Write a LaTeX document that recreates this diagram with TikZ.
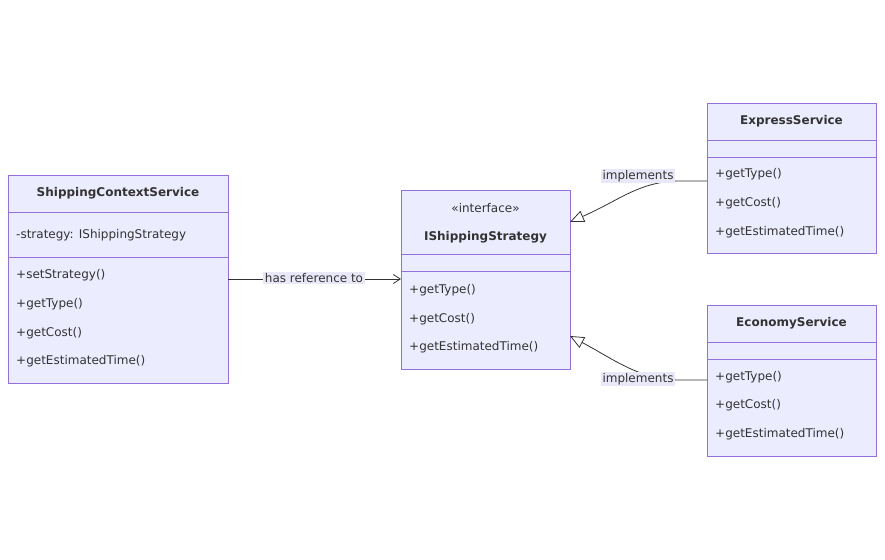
\documentclass[tikz,border=0pt]{standalone}
\usepackage{fontspec}
\setmainfont{DejaVu Sans}
\usetikzlibrary{arrows.meta}
\definecolor{bx}{HTML}{ECECFF}
\definecolor{bd}{HTML}{9370DB}
\definecolor{tx}{HTML}{333333}
\definecolor{lb}{HTML}{E8E8F8}
\begin{document}
\begin{tikzpicture}[x=1pt,y=-1pt,
  box/.style={draw=bd,fill=bx,line width=0.8pt},
  dv/.style={draw=bd,line width=0.8pt},
  t/.style={text=tx,font=\fontsize{12}{14}\selectfont,inner sep=0pt},
  tb/.style={t,font=\fontsize{12}{14}\selectfont\bfseries},
  m/.style={t,anchor=west},
  lab/.style={t,fill=lb,inner sep=1.5pt},
  ln/.style={draw=tx,line width=0.8pt}]
\useasboundingbox (0,0) rectangle (885,559);
% ShippingContextService
\draw[box] (8,175) rectangle (228,383);
\draw[dv] (8,212)--(228,212); \draw[dv] (8,257)--(228,257);
\node[tb] (sc) at (118,193) {ShippingContextService};
\node[m] at (16,235) {-strategy: IShippingStrategy};
\node[m] at (16,275) {+setStrategy()};
\node[m] at (16,304) {+getType()};
\node[m] at (16,333) {+getCost()};
\node[m] at (16,361) {+getEstimatedTime()};
\coordinate (scR) at (228,279);
% IShippingStrategy
\draw[box] (401,190) rectangle (570,369);
\draw[dv] (401,254)--(570,254); \draw[dv] (401,271)--(570,271);
\node[t] at (485.5,208) {«interface»};
\node[tb] (is) at (485.5,237) {IShippingStrategy};
\node[m] at (409,290) {+getType()};
\node[m] at (409,319) {+getCost()};
\node[m] at (409,347) {+getEstimatedTime()};
\coordinate (isL) at (401,279);
\coordinate (isT) at (570,222);
\coordinate (isB) at (570,336);
% ExpressService
\draw[box] (707,103) rectangle (876,253);
\draw[dv] (707,140)--(876,140); \draw[dv] (707,157)--(876,157);
\node[tb] (ex) at (791.5,121) {ExpressService};
\node[m] at (715,174) {+getType()};
\node[m] at (715,203) {+getCost()};
\node[m] at (715,232) {+getEstimatedTime()};
\coordinate (exL) at (707,181);
% EconomyService
\draw[box] (707,305) rectangle (876,456);
\draw[dv] (707,342)--(876,342); \draw[dv] (707,359)--(876,359);
\node[tb] (ec) at (791.5,323) {EconomyService};
\node[m] at (715,377) {+getType()};
\node[m] at (715,405) {+getCost()};
\node[m] at (715,434) {+getEstimatedTime()};
\coordinate (ecL) at (707,380);
% connectors
\draw[ln,-{Straight Barb[length=7pt,width=9pt]}] (scR) -- (isL);
\node[lab] at (314,278) {has reference to};
\draw[ln,-{Triangle[open,length=14pt,width=12pt]}] (exL) -- (680,181) .. controls (640,181) and (620,200) .. (isT);
\node[lab] at (638,176) {implements};
\draw[ln,-{Triangle[open,length=14pt,width=12pt]}] (ecL) -- (680,380) .. controls (640,380) and (615,360) .. (isB);
\node[lab] at (638,379) {implements};
\end{tikzpicture}
\end{document}
